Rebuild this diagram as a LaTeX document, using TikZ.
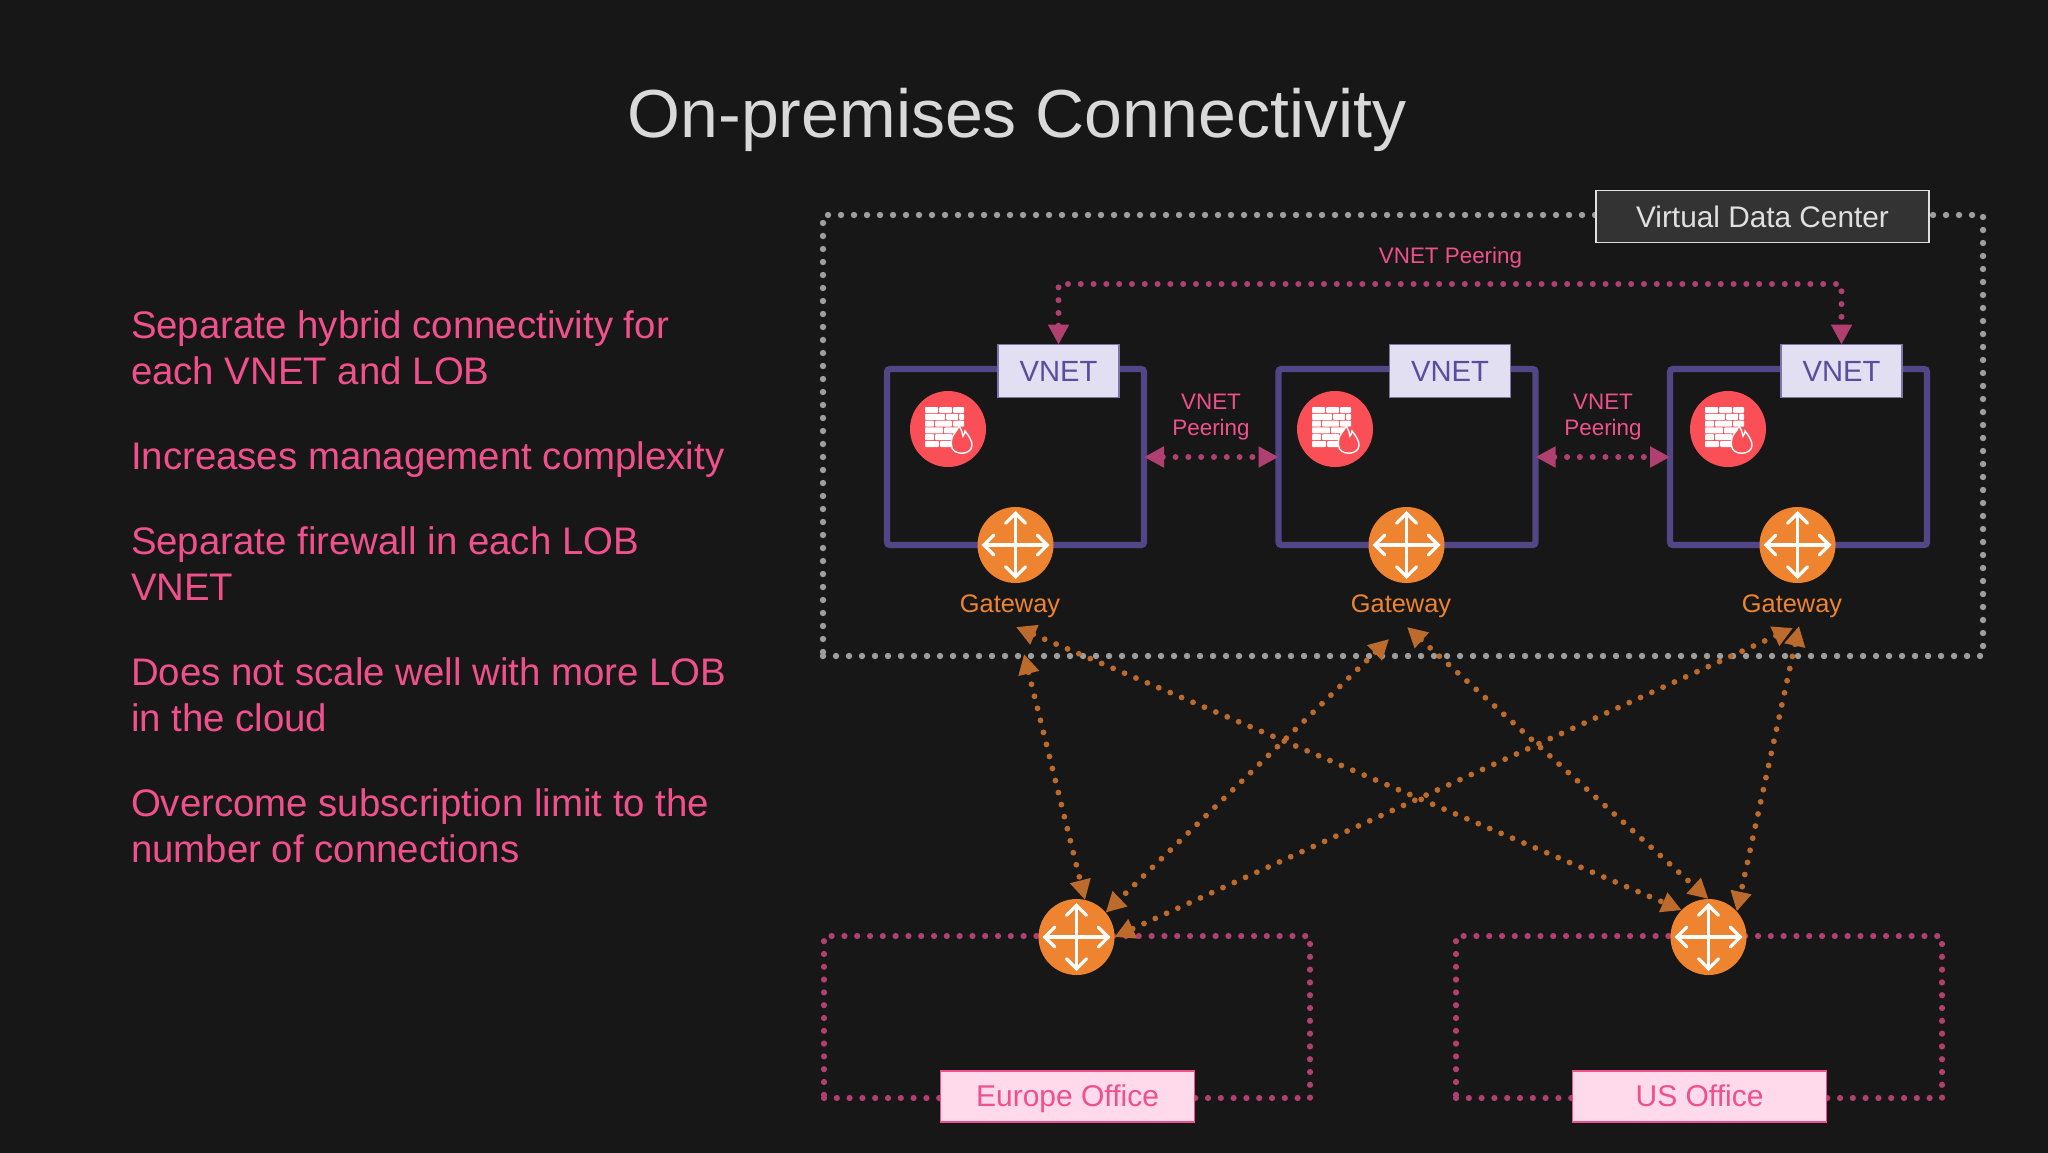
\documentclass[tikz,border=0pt]{standalone}
\usepackage{fontspec}
\setmainfont{Liberation Sans}
\usetikzlibrary{positioning,arrows.meta}

\definecolor{bgdark}{HTML}{171717}
\definecolor{pinktext}{HTML}{F0508C}
\definecolor{pinkdot}{HTML}{B0406F}
\definecolor{officefill}{HTML}{FFDAEA}
\definecolor{orangefill}{HTML}{EF8430}
\definecolor{orangedot}{HTML}{BD6B2C}
\definecolor{vnetline}{HTML}{524687}
\definecolor{vnetfill}{HTML}{E1DFF1}
\definecolor{vnettext}{HTML}{5A4E9C}
\definecolor{firered}{HTML}{FA4F56}

\tikzstyle{bullet} = [text=pinktext, font=\fontsize{19.2}{23}\selectfont, align=left, inner sep=0pt, outer sep=0pt]
\tikzstyle{vnetframe} = [rectangle, draw=vnetline, line width=3.2pt, rounded corners=1.5pt, inner sep=0pt, outer sep=0pt, minimum width=128.5pt, minimum height=88pt]
\tikzstyle{vnetlabel} = [rectangle, draw=vnetline!70!vnetfill, line width=0.8pt, fill=vnetfill, text=vnettext, font=\fontsize{14.6}{16}\selectfont, inner sep=0pt, outer sep=0pt, minimum width=60.5pt, minimum height=26.5pt]
\tikzstyle{officelabel} = [rectangle, draw=pinktext, line width=0.8pt, fill=officefill, text=pinktext, font=\fontsize{15}{17}\selectfont, text height=13.4pt, text depth=3.2pt, inner sep=0pt, outer sep=0pt, minimum width=127pt, minimum height=25.5pt]
\tikzstyle{office} = [rectangle, draw=pinkdot, dash pattern=on 0pt off 6.4pt, line cap=round, line width=3.1pt, inner sep=0pt, outer sep=0pt, minimum height=81pt, minimum width=243pt]
\tikzstyle{gwcircle} = [circle, fill=orangefill, inner sep=0pt, outer sep=0pt, minimum size=38pt]
\tikzstyle{fwcircle} = [circle, fill=firered, inner sep=0pt, outer sep=0pt, minimum size=38pt]
\tikzstyle{peertext} = [text=pinktext, font=\fontsize{11.2}{13}\selectfont, align=center, inner sep=0pt]
\tikzstyle{gwtext} = [text=orangefill, font=\fontsize{12.7}{14}\selectfont, inner sep=0pt]
\tikzstyle{peerline} = [draw=pinkdot, dash pattern=on 0pt off 6.4pt, line cap=round, line width=3pt, {Triangle[length=10pt,width=10pt,fill=pinkdot,line cap=butt]}-{Triangle[length=10pt,width=10pt,fill=pinkdot,line cap=butt]}]
\tikzstyle{gwline} = [draw=orangedot, dash pattern=on 0pt off 6.2pt, line cap=round, line width=2.9pt, {Triangle[length=10pt,width=10pt,fill=orangedot,line cap=butt]}-{Triangle[length=10pt,width=10pt,fill=orangedot,line cap=butt]}]
\tikzstyle{crossline} = [draw=white, line width=1.6pt, line cap=round, {Straight Barb[length=5pt,width=10pt,line cap=round]}-{Straight Barb[length=5pt,width=10pt,line cap=round]}]

% white cross of arrows on a gateway
\newcommand{\gwcross}[1]{
    \draw [crossline] ([xshift=-17pt]#1.center) -- ([xshift=17pt]#1.center);
    \draw [crossline] ([yshift=-17pt]#1.center) -- ([yshift=17pt]#1.center);
}
% brick wall with flame on a firewall
\newcommand{\fwbricks}[1]{
    \begin{scope}[shift={(#1.center)}, x=1pt, y=-1pt]
        \foreach \row/\xa/\xb in {0/-11.5/-5, 0/-4.4/2, 0/2.6/8,
            1/-11.5/-1.5, 1/-0.9/5, 1/5.6/8,
            2/-11.5/-7, 2/-6.4/2, 2/2.6/8,
            3/-11.5/-2.5, 3/-1.9/5,
            4/-11.5/-7, 4/-6.4/2,
            5/-11.5/-4.5, 5/-3.9/2}
            \fill [white, rounded corners=0.4pt] (\xa,-11+3.4*\row) rectangle (\xb,-8+3.4*\row);
        \draw [white, line width=0.7pt, fill=firered] (1.7,6) .. controls (1.7,3) and (4,2) .. (5.5,-1.5)
            .. controls (7,0.5) and (7.2,2.5) .. (7.5,3.5) .. controls (8,2.8) and (8.5,2) .. (8.5,1)
            .. controls (10.5,3.5) and (12,6) .. (12,8) .. controls (12,13.5) and (1.7,13.5) .. (1.7,8) -- cycle;
    \end{scope}
}

\begin{document}
\begin{tikzpicture}[x=0.5pt, y=-0.5pt, node distance=19.5pt]
        \useasboundingbox (0,0) rectangle (2048,1152);
        \fill [bgdark] (-4,-4) rectangle (2052,1156);

        % Title and text on the left
        \node [text=white!85!black, font=\fontsize{34}{40}\selectfont] (title) at (1017,120) {On-premises Connectivity};
        \node [bullet, anchor=north west] (hybrid) at (131,306.5) {\strut Separate hybrid connectivity for\\\strut each VNET and LOB};
        \node [bullet, below=of hybrid.south west, anchor=north west] (complex) {\strut Increases management complexity};
        \node [bullet, below=of complex.south west, anchor=north west] (firewall) {\strut Separate firewall in each LOB\\\strut VNET};
        \node [bullet, below=of firewall.south west, anchor=north west] (scale) {\strut Does not scale well with more LOB\\\strut in the cloud};
        \node [bullet, below=of scale.south west, anchor=north west] (limit) {\strut Overcome subscription limit to the\\\strut number of connections};

        % Virtual data center
        \node [rectangle, draw=white!62!black, dash pattern=on 0pt off 6.5pt, line cap=round, line width=3.2pt, inner sep=0pt, outer sep=0pt, minimum width=580pt, minimum height=220.5pt] (vdc) at (1403,435.5) {};
        \node [rectangle, draw=white!88!black, line width=0.8pt, fill=white!20!black, text=white!88!black, font=\fontsize{14.9}{17}\selectfont, inner sep=0pt, minimum width=166.5pt, minimum height=26pt] (vdclabel) at (1762.5,216.5) {Virtual Data Center};

        % VNETs
        \node [vnetframe] (vneta) at (1015.5,457) {};
        \node [vnetframe] (vnetb) at (1407,457) {};
        \node [vnetframe] (vnetc) at (1798.5,457) {};
        \node [vnetlabel] (laba) at (1058.5,371) {VNET};
        \node [vnetlabel] (labb) at (1450,371) {VNET};
        \node [vnetlabel] (labc) at (1841.5,371) {VNET};

        % Firewalls
        \node [fwcircle] (fwa) at (948,429) {};
        \node [fwcircle] (fwb) at (1335,429) {};
        \node [fwcircle] (fwc) at (1728,429) {};
        \fwbricks{fwa}
        \fwbricks{fwb}
        \fwbricks{fwc}

        % Gateways
        \node [gwcircle] (gwa) at (1015.5,545) {};
        \node [gwcircle] (gwb) at (1406.5,545) {};
        \node [gwcircle] (gwc) at (1797.5,545) {};
        \gwcross{gwa}
        \gwcross{gwb}
        \gwcross{gwc}
        \node [gwtext] (gwtexta) at (1010,606.5) {Gateway};
        \node [gwtext] (gwtextb) at (1401,606.5) {Gateway};
        \node [gwtext] (gwtextc) at (1792,606.5) {Gateway};

        % Peerings
        \node [peertext] (peertop) at (1450.5,258) {VNET Peering};
        \node [peertext] (peerab) at (1211,417.5) {VNET\\Peering};
        \node [peertext] (peerbc) at (1603,417.5) {VNET\\Peering};
        \coordinate (peerrail) at (1450,284);
        \path [peerline] (laba.north) |- (peerrail) -| (labc.north);
        \path [peerline] (vneta.east) -- (vnetb.west);
        \path [peerline] (vnetb.east) -- (vnetc.west);

        % Offices
        \node [office] (europe) at (1067,1017) {};
        \node [office] (us) at (1699,1017) {};
        \node [officelabel] (europelabel) at (1067.5,1096.5) {Europe Office};
        \node [officelabel] (uslabel) at (1699.5,1096.5) {US Office};
        \node [gwcircle] (rta) at (1076.5,937) {};
        \node [gwcircle] (rtb) at (1708.5,937) {};
        \gwcross{rta}
        \gwcross{rtb}

        % Ends of the links at the gateways
        \coordinate (tipaa) at (1024,654);
        \coordinate (tipab) at (1016,627);
        \coordinate (tipba) at (1389,639);
        \coordinate (tipbb) at (1407,627);
        \coordinate (tipca) at (1793,628);
        \coordinate (tipcb) at (1799,626);

        % Links to the offices
        \path [gwline] (tipaa) -- (rta.77);
        \path [gwline] (tipab) -- (rtb.135);
        \path [gwline] (tipba) -- (rta.40);
        \path [gwline] (tipbb) -- (rtb.90);
        \path [gwline] (tipca) -- (rta.0);
        \path [gwline] (tipcb) -- (rtb.42);
    \end{tikzpicture}
\end{document}
